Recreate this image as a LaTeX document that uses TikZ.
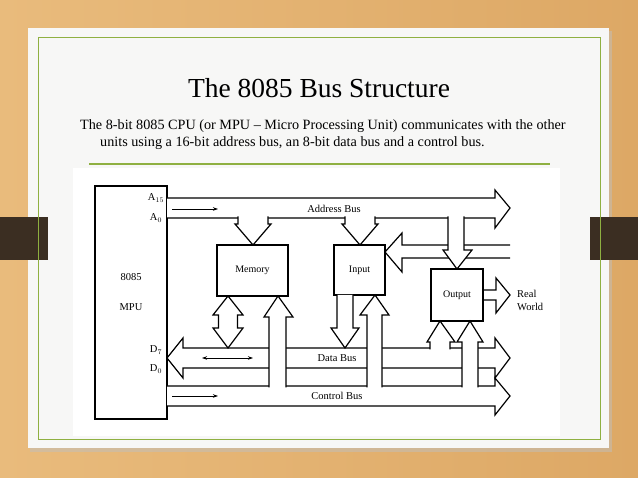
\documentclass[tikz,border=0pt]{standalone}
\usepackage{fontspec}
\setmainfont{Liberation Serif}
\usetikzlibrary{arrows.meta}
\definecolor{wood}{HTML}{E9BB7C}
\definecolor{woodd}{HTML}{DDA865}
\definecolor{tab}{HTML}{3B2E22}
\definecolor{frame}{HTML}{8FB041}
\definecolor{card}{HTML}{F7F7F6}
\tikzset{
  big/.style={fill=white,draw=black,line width=1.2pt,line join=miter},
  thin/.style={draw=black,line width=0.7pt,-{Stealth[length=5pt,width=3.5pt]}},
  lbl/.style={font=\fontsize{10.5}{11}\selectfont,inner sep=0pt},
  unit/.style={big,minimum width=0pt,inner sep=0pt}
}
\begin{document}
\begin{tikzpicture}[x=1pt,y=-1pt]
\useasboundingbox (0,0) rectangle (638,478);
\shade[left color=wood,right color=woodd] (0,0) rectangle (638,478);
\fill[black!25,opacity=0.5] (30,31) rectangle (612,452);
\fill[card] (28,28) rectangle (609,448);
\fill[tab] (0,217) rectangle (48,260);
\fill[tab] (590,217) rectangle (638,260);
\draw[frame,line width=0.8pt] (38.5,37) rectangle (600,439);
\node[font=\fontsize{27.5}{30}\selectfont] (title) at (319,88) {The 8085 Bus Structure};
\node[font=\fontsize{14.2}{16}\selectfont,anchor=west,inner sep=0pt] (l1) at (80,126) {The 8-bit 8085 CPU (or MPU -- Micro Processing Unit) communicates with the other};
\node[font=\fontsize{14.2}{16}\selectfont,anchor=west,inner sep=0pt] (l2) at (100,143) {units using a 16-bit address bus, an 8-bit data bus and a control bus.};
\draw[frame,line width=1.2pt] (89,164) -- (550,164);
\fill[white] (73,168) rectangle (560,436);
% MPU
\draw[line width=1.2pt] (95,186) rectangle (167,419);
\node[lbl] (a15) at (156,198) {A$_{15}$};
\node[lbl] (a0) at (156,218) {A$_0$};
\node[lbl] (n8085) at (131,277) {8085};
\node[lbl] (mpu) at (131,307) {MPU};
\node[lbl] (d7) at (156,350) {D$_7$};
\node[lbl] (d0) at (156,369) {D$_0$};
% buses
\path[big] (167,198)--(495,198)--(495,190)--(510,208)--(495,228)--(495,218)--(167,218);
\path[big] (183,348)--(495,348)--(495,338)--(510,358)--(495,378)--(495,368)--(183,368)--(183,378)--(167,358)--(183,338)--cycle;
\path[big] (167,386)--(495,386)--(495,378)--(510,396)--(495,415)--(495,406)--(167,406);
\node[lbl] (ab) at (334,209) {Address Bus};
\node[lbl] (db) at (337,358) {Data Bus};
\node[lbl] (cb) at (337,396) {Control Bus};
\coordinate (s1) at (172,209); \coordinate (e1) at (218,209);
\draw[thin] (s1) -- (e1);
\coordinate (s2) at (202,358); \coordinate (e2) at (253,358);
\draw[thin,{Stealth[length=5pt,width=3.5pt]}-{Stealth[length=5pt,width=3.5pt]}] (s2) -- (e2);
\coordinate (s3) at (172,396); \coordinate (e3) at (218,396);
\draw[thin] (s3) -- (e3);
% input from real world
\path[big] (510,245)--(402,245)--(402,233)--(385,252)--(402,272)--(402,258)--(510,258);
% drops from address bus
\path[big] (238,216.5)--(238,224)--(235,224)--(253,245)--(271,224)--(268,224)--(268,216.5);
\path[big] (345,216.5)--(345,224)--(342,224)--(360,245)--(378,224)--(375,224)--(375,216.5);
\path[big] (448,216.5)--(448,250)--(443,250)--(457,269)--(472,250)--(464,250)--(464,216.5);
% boxes
\node[unit,minimum width=71pt,minimum height=51pt] (mem) at (252.5,270.5) {Memory};
\node[unit,minimum width=51pt,minimum height=50pt] (inp) at (359.5,270) {Input};
\node[unit,minimum width=52pt,minimum height=51pt] (out) at (457,295) {Output};
\node[lbl,anchor=west,align=left] (rw) at (517,300.5) {Real\\[2pt]World};
% memory arrows
\path[big] (228,296)--(243,315)--(237.5,315)--(237.5,328)--(243,328)--(228,348)--(213,328)--(218.5,328)--(218.5,315)--(213,315)--cycle;
\path[big] (269,387.5)--(269,317)--(264,317)--(278,296)--(293,317)--(286,317)--(286,387.5);
% input arrows
\path[big] (337,295)--(337,328)--(331,328)--(345,348)--(359,328)--(353,328)--(353,295);
\path[big] (367,387.5)--(367,315)--(360,315)--(375,295)--(389,315)--(382,315)--(382,387.5);
% output arrows
\path[big] (430,349.5)--(430,342)--(427,342)--(440,321)--(455,342)--(450,342)--(450,349.5);
\path[big] (462,387.5)--(462,342)--(457,342)--(470,321)--(483,342)--(478,342)--(478,387.5);
\path[big] (483,290)--(496,290)--(496,278)--(510,295)--(496,313)--(496,300)--(483,300);
\draw[line width=1.2pt] (out.south west) rectangle (out.north east);
\end{tikzpicture}
\end{document}
